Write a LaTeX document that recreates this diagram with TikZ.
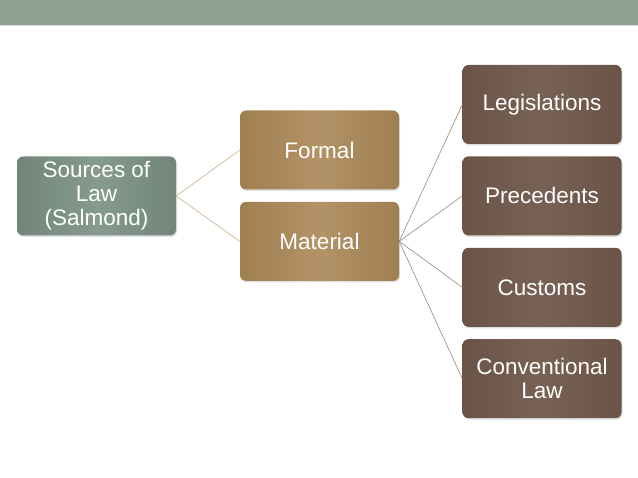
\documentclass[tikz,border=0pt]{standalone}
\usepackage{fontspec}
\setmainfont{Liberation Sans}
\usetikzlibrary{positioning, shadows}
\definecolor{barcol}{HTML}{91A295}
\definecolor{rootcol}{HTML}{7B9283}
\definecolor{midcol}{HTML}{AA8756}
\definecolor{leafcol}{HTML}{6F574A}
\definecolor{tanline}{HTML}{C9AE86}
\definecolor{greyline}{HTML}{948880}
\tikzset{
x=1pt, y=1pt,
node distance=12pt, % vertical gap between the stacked boxes
box/.style={rounded corners=6pt, minimum width=159pt, minimum height=79pt,
  inner sep=2pt, align=center, text=white, font=\fontsize{22.5}{24}\selectfont,
  drop shadow={opacity=0.25, shadow xshift=1pt, shadow yshift=-1.5pt}}, % common box look
rootbox/.style={box, left color=rootcol!92!black, right color=rootcol!92!black, middle color=rootcol!92!white},
midbox/.style={box, left color=midcol!94!black, right color=midcol!94!black, middle color=midcol!90!white},
leafbox/.style={box, left color=leafcol!96!black, right color=leafcol!96!black, middle color=leafcol!94!white},
}
\begin{document}
\begin{tikzpicture}
    \useasboundingbox (0,0) rectangle (638,-478);
    % top band
    \fill[barcol] (0,0) rectangle (638,-25);
    \fill[barcol!40!white] (0,-25) rectangle (638,-26.5);

        \node[rootbox] (SRC) at (96.5,-196) {Sources of\\Law\\(Salmond)};
        \node[midbox] (FORM) at (319.5,-150) {Formal};
        \node[midbox, below=of FORM] (MAT) {Material};
        \node[leafbox] (LEG) at (542,-104.5) {Legislations};
        \node[leafbox, below=of LEG] (PREC) {Precedents};
        \node[leafbox, below=of PREC] (CUST) {Customs};
        \node[leafbox, below=of CUST] (CONV) {Conventional\\Law};

        \draw[tanline, line width=0.6pt] (SRC.east) -- (FORM.west)
              (SRC.east) -- (MAT.west);
        \foreach \leaf in {LEG, PREC, CUST, CONV}
            \draw[greyline, line width=0.6pt] (MAT.east) -- (\leaf.west);
     \end{tikzpicture}
\end{document}
